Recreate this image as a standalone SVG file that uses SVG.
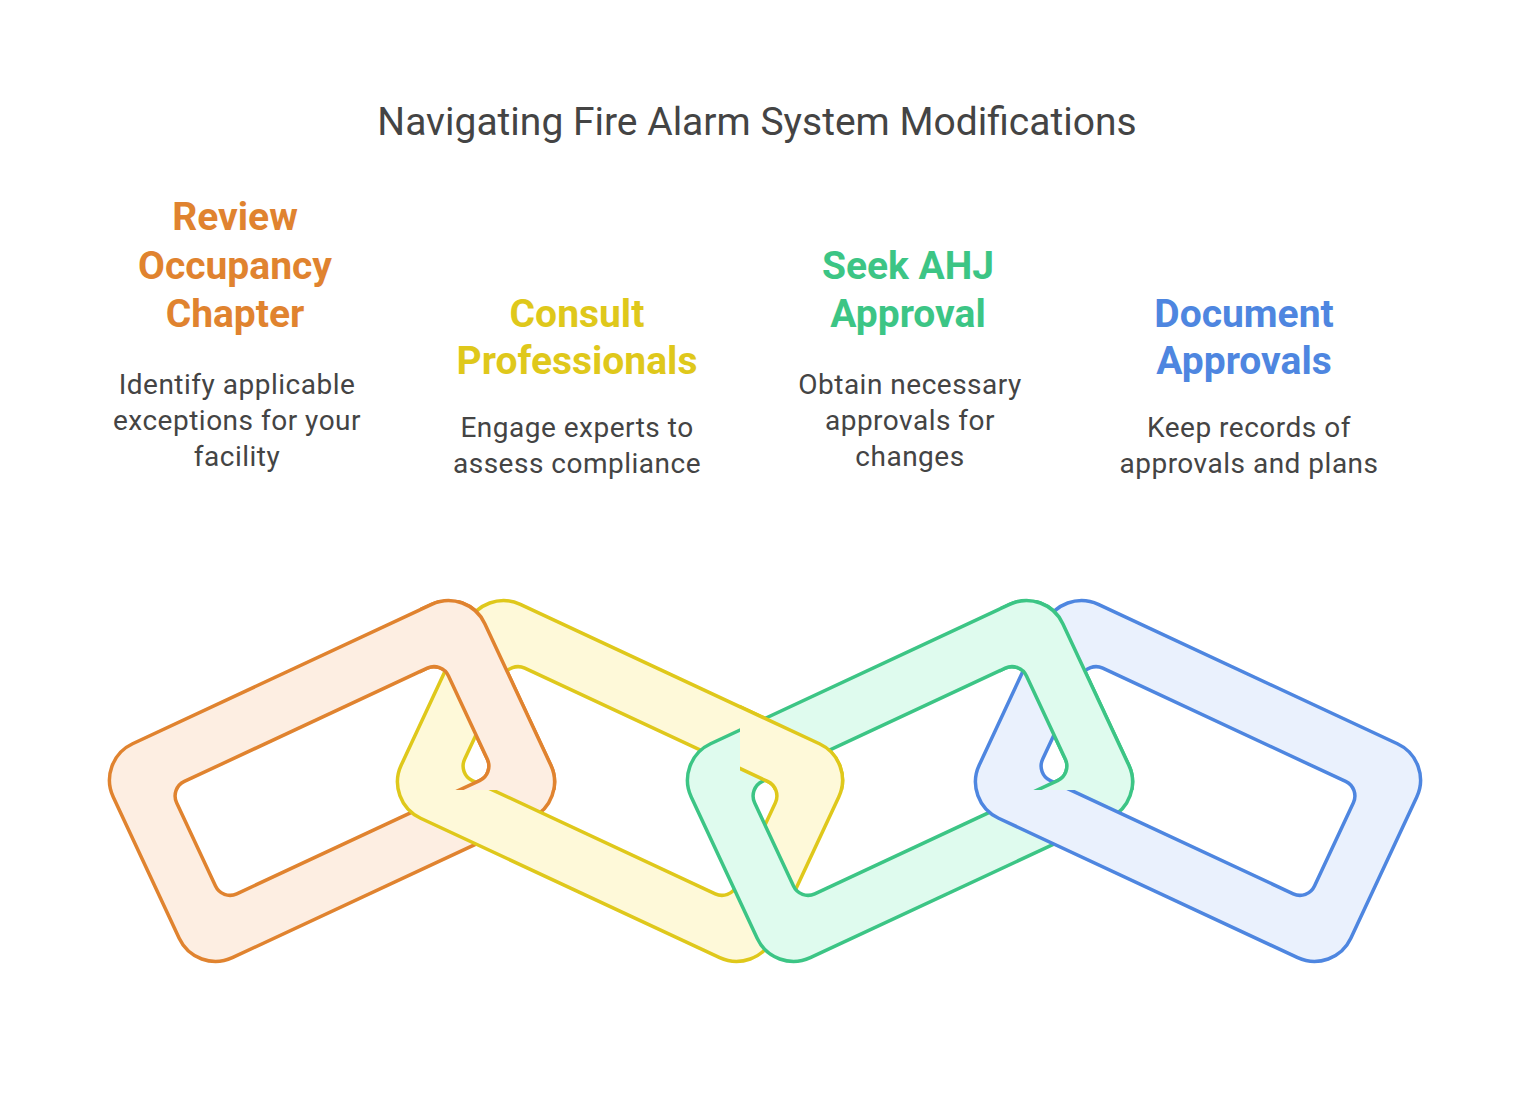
<svg xmlns="http://www.w3.org/2000/svg" width="1516" height="1108" viewBox="0 0 1516 1108">
<style>
text{font-family:Roboto,"Liberation Sans",sans-serif;text-anchor:middle}
.t{font-size:39px;fill:#444}
.h{font-size:39px;font-weight:bold}
.d{font-size:28px;fill:#444;letter-spacing:0.5px}
.lk{stroke-width:3.5;fill-rule:evenodd}
</style>
<defs>
<path id="linkShape" class="lk" d="M-165,-118 H165 A40,40 0 0 1 205,-78 V78 A40,40 0 0 1 165,118 H-165 A40,40 0 0 1 -205,78 V-78 A40,40 0 0 1 -165,-118 Z M-134,-62 H134 A16,16 0 0 1 150,-46 V46 A16,16 0 0 1 134,62 H-134 A16,16 0 0 1 -150,46 V-46 A16,16 0 0 1 -134,-62 Z"/>
<clipPath id="c12"><rect x="420" y="600" width="140" height="190"/></clipPath>
<clipPath id="c23"><rect x="740" y="700" width="110" height="90"/></clipPath>
<clipPath id="c34"><rect x="1000" y="600" width="140" height="190"/></clipPath>
</defs>
<rect width="1516" height="1108" fill="#fff"/>
<text class="t" x="757" y="135">Navigating Fire Alarm System Modifications</text>
<g id="n1"><text class="h" fill="#e0832f"><tspan x="235" y="230">Review</tspan><tspan x="235" y="279">Occupancy</tspan><tspan x="235" y="327">Chapter</tspan></text>
<text class="d"><tspan x="237" y="394">Identify applicable</tspan><tspan x="237" y="430">exceptions for your</tspan><tspan x="237" y="466">facility</tspan></text></g>
<g id="n2"><text class="h" fill="#dfc81b"><tspan x="577" y="327">Consult</tspan><tspan x="577" y="374">Professionals</tspan></text>
<text class="d"><tspan x="577" y="437">Engage experts to</tspan><tspan x="577" y="473">assess compliance</tspan></text></g>
<g id="n3"><text class="h" fill="#3cc585"><tspan x="908" y="279">Seek AHJ</tspan><tspan x="908" y="327">Approval</tspan></text>
<text class="d"><tspan x="910" y="394">Obtain necessary</tspan><tspan x="910" y="430">approvals for</tspan><tspan x="910" y="466">changes</tspan></text></g>
<g id="n4"><text class="h" fill="#4e86e0"><tspan x="1244" y="327">Document</tspan><tspan x="1244" y="374">Approvals</tspan></text>
<text class="d"><tspan x="1249" y="437">Keep records of</tspan><tspan x="1249" y="473">approvals and plans</tspan></text></g>
<g id="chain">
<g id="l1"><use href="#linkShape" transform="translate(332,781) rotate(-25)" fill="#fdeee2" stroke="#e0832f"/></g>
<g id="l2"><use href="#linkShape" transform="translate(620,781) rotate(25)" fill="#fef9d9" stroke="#dfc81b"/></g>
<g id="l3"><use href="#linkShape" transform="translate(910,781) rotate(-25)" fill="#dffbee" stroke="#3cc585"/></g>
<g id="l4"><use href="#linkShape" transform="translate(1198,781) rotate(25)" fill="#eaf1fd" stroke="#4e86e0"/></g>
<g clip-path="url(#c12)"><use href="#linkShape" transform="translate(332,781) rotate(-25)" fill="#fdeee2" stroke="#e0832f"/></g>
<g clip-path="url(#c23)"><use href="#linkShape" transform="translate(620,781) rotate(25)" fill="#fef9d9" stroke="#dfc81b"/></g>
<g clip-path="url(#c34)"><use href="#linkShape" transform="translate(910,781) rotate(-25)" fill="#dffbee" stroke="#3cc585"/></g>
</g>
</svg>
